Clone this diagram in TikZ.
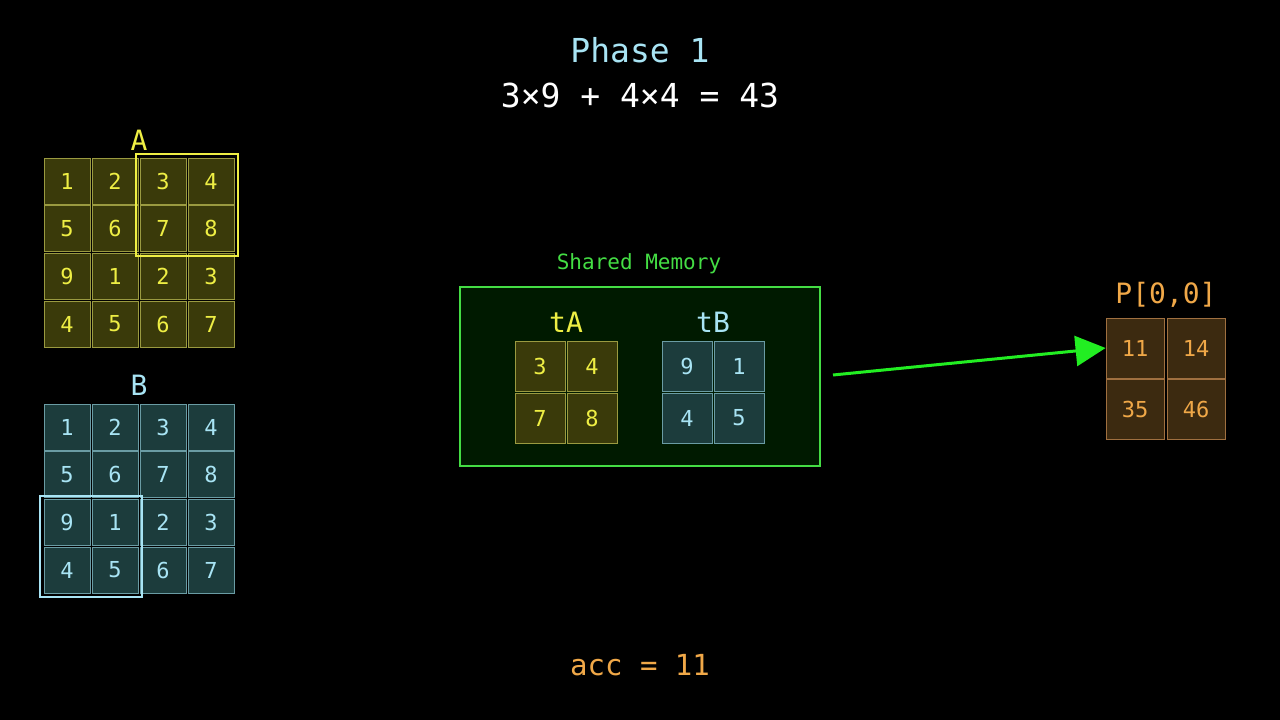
\documentclass[tikz,border=0pt]{standalone}
\usepackage{fontspec}
\setmonofont{DejaVu Sans Mono}
\usetikzlibrary{arrows.meta}
\definecolor{yt}{HTML}{EEEE44}\definecolor{yf}{HTML}{3A3A0A}\definecolor{yb}{HTML}{9A9A40}
\definecolor{ct}{HTML}{A8E4F4}\definecolor{cf}{HTML}{1C3C3C}\definecolor{cb}{HTML}{6A9CA4}
\definecolor{ot}{HTML}{F0A848}\definecolor{of}{HTML}{3C2A10}\definecolor{ob}{HTML}{A07040}
\definecolor{gt}{HTML}{44DD44}\definecolor{gf}{HTML}{001A00}\definecolor{ga}{HTML}{22EE22}
\tikzset{
 cell/.style={draw=#1b,fill=#1f,text=#1t,minimum width=46pt,minimum height=46pt,line width=0.8pt,inner sep=0pt,font=\ttfamily\fontsize{22}{22}\selectfont},
 scell/.style={cell=#1,minimum width=50pt,minimum height=50pt},
 pcell/.style={cell=#1,minimum width=58pt,minimum height=60pt},
 lab/.style={text=#1,font=\ttfamily\fontsize{28}{28}\selectfont},
 hl/.style={draw=#1,line width=2pt},
}
\begin{document}
\begin{tikzpicture}[x=1pt,y=-1pt]
\fill[black] (0,0) rectangle (1280,720);
\useasboundingbox (0,0) rectangle (1280,720);
\node[lab=ct,font=\ttfamily\fontsize{33}{33}\selectfont] (title) at (640,50) {Phase 1};
\node[text=white,font=\ttfamily\fontsize{33}{33}\selectfont] (eq) at (640,95) {3×9 + 4×4 = 43};
\node[lab=ot,font=\ttfamily\fontsize{29}{29}\selectfont] (acc) at (640,665) {acc = 11};
% A
\node[lab=yt] (la) at (139,140) {A};
\foreach \r/\row in {0/{1,2,3,4},1/{5,6,7,8},2/{9,1,2,3},3/{4,5,6,7}}{
 \foreach \v [count=\c from 0] in \row {
  \node[cell=y] (a\r\c) at (67+48*\c,181+47.7*\r) {\v};}}
\draw[hl=yt] (136,154) rectangle (238,256);
% B
\node[lab=ct] (lb) at (139,385) {B};
\foreach \r/\row in {0/{1,2,3,4},1/{5,6,7,8},2/{9,1,2,3},3/{4,5,6,7}}{
 \foreach \v [count=\c from 0] in \row {
  \node[cell=c] (b\r\c) at (67+48*\c,427+47.7*\r) {\v};}}
\draw[hl=ct] (40,496) rectangle (142,597);
% shared
\node[text=gt,font=\ttfamily\fontsize{21}{21}\selectfont] (sm) at (639,264) {Shared Memory};
\draw[draw=gt,fill=gf,line width=1.5pt] (460,287) rectangle (820,466);
\node[lab=yt] (lta) at (566,322) {tA};
\node[lab=ct] (ltb) at (713,322) {tB};
\node[scell=y] (ta00) at (540,366) {3};\node[scell=y] (ta01) at (592,366) {4};
\node[scell=y] (ta10) at (540,418) {7};\node[scell=y] (ta11) at (592,418) {8};
\node[scell=c] (tb00) at (687,366) {9};\node[scell=c] (tb01) at (739,366) {1};
\node[scell=c] (tb10) at (687,418) {4};\node[scell=c] (tb11) at (739,418) {5};
% P
\node[lab=ot] (lp) at (1166,295) {P[0,0]};
\node[pcell=o] (p00) at (1135,348) {11};\node[pcell=o] (p01) at (1196,348) {14};
\node[pcell=o] (p10) at (1135,409) {35};\node[pcell=o] (p11) at (1196,409) {46};
\coordinate (as) at (833,375);
\draw[ga,line width=3pt,-{Triangle[length=30pt,width=30pt]}] (as) -- (p00.west);
\end{tikzpicture}
\end{document}
